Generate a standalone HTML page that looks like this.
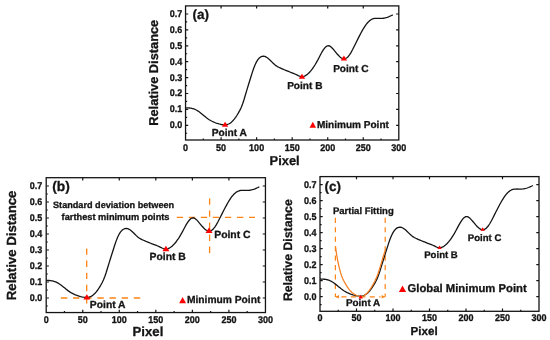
<!DOCTYPE html>
<html><head><meta charset="utf-8"><title>Figure</title>
<style>html,body{margin:0;padding:0;background:#fff}body{width:550px;height:340px;overflow:hidden}svg text{font-family:"Liberation Sans",sans-serif;font-weight:bold;stroke:#141414;stroke-width:0.3px;stroke-linejoin:round;text-rendering:geometricPrecision}</style></head>
<body>
<svg width="550" height="340" viewBox="0 0 550 340" font-family="Liberation Sans, sans-serif" font-weight="bold" fill="#141414" style="display:block">
<rect x="185.55" y="5.9" width="213.25" height="134.1" fill="none" stroke="#141414" stroke-width="1.3"/>
<path d="M203.32 140v-1.6M221.09 140v-2.7M221.09 5.9v2.7M238.86 140v-1.6M256.63 140v-2.7M256.63 5.9v2.7M274.4 140v-1.6M292.18 140v-2.7M292.18 5.9v2.7M309.95 140v-1.6M327.72 140v-2.7M327.72 5.9v2.7M345.49 140v-1.6M363.26 140v-2.7M363.26 5.9v2.7M381.03 140v-1.6M185.55 133.25h1.6M185.55 125.3h2.7M398.8 125.3h-2.7M185.55 117.35h1.6M185.55 109.4h2.7M398.8 109.4h-2.7M185.55 101.45h1.6M185.55 93.5h2.7M398.8 93.5h-2.7M185.55 85.55h1.6M185.55 77.6h2.7M398.8 77.6h-2.7M185.55 69.65h1.6M185.55 61.7h2.7M398.8 61.7h-2.7M185.55 53.75h1.6M185.55 45.8h2.7M398.8 45.8h-2.7M185.55 37.85h1.6M185.55 29.9h2.7M398.8 29.9h-2.7M185.55 21.95h1.6M185.55 14h2.7M398.8 14h-2.7" stroke="#141414" stroke-width="1.2" fill="none"/>
<text transform="translate(182.35 128.26) scale(1 1.09)" font-size="9.0" text-anchor="end" >0.0</text>
<text transform="translate(182.35 112.36) scale(1 1.09)" font-size="9.0" text-anchor="end" >0.1</text>
<text transform="translate(182.35 96.46) scale(1 1.09)" font-size="9.0" text-anchor="end" >0.2</text>
<text transform="translate(182.35 80.56) scale(1 1.09)" font-size="9.0" text-anchor="end" >0.3</text>
<text transform="translate(182.35 64.66) scale(1 1.09)" font-size="9.0" text-anchor="end" >0.4</text>
<text transform="translate(182.35 48.76) scale(1 1.09)" font-size="9.0" text-anchor="end" >0.5</text>
<text transform="translate(182.35 32.86) scale(1 1.09)" font-size="9.0" text-anchor="end" >0.6</text>
<text transform="translate(182.35 16.96) scale(1 1.09)" font-size="9.0" text-anchor="end" >0.7</text>
<text transform="translate(185.55 150.5) scale(1 1.09)" font-size="9.0" text-anchor="middle" >0</text>
<text transform="translate(221.09 150.5) scale(1 1.09)" font-size="9.0" text-anchor="middle" >50</text>
<text transform="translate(256.63 150.5) scale(1 1.09)" font-size="9.0" text-anchor="middle" >100</text>
<text transform="translate(292.18 150.5) scale(1 1.09)" font-size="9.0" text-anchor="middle" >150</text>
<text transform="translate(327.72 150.5) scale(1 1.09)" font-size="9.0" text-anchor="middle" >200</text>
<text transform="translate(363.26 150.5) scale(1 1.09)" font-size="9.0" text-anchor="middle" >250</text>
<text transform="translate(398.8 150.5) scale(1 1.09)" font-size="9.0" text-anchor="middle" >300</text>

<path d="M185.55 107.81 L186.94 107.83 L188.33 107.89 L189.72 108.02 L191.11 108.23 L192.51 108.53 L193.9 108.96 L195.29 109.51 L196.68 110.22 L198.07 111.08 L199.46 112.06 L200.85 113.14 L202.24 114.28 L203.63 115.44 L205.03 116.6 L206.42 117.71 L207.81 118.76 L209.2 119.7 L210.59 120.53 L211.98 121.27 L213.37 121.93 L214.76 122.51 L216.15 123.03 L217.55 123.49 L218.94 123.89 L220.33 124.24 L221.72 124.53 L223.11 124.74 L224.5 124.82 L225.89 124.76 L227.28 124.5 L228.68 124.01 L230.07 123.23 L231.46 122.16 L232.85 120.8 L234.24 119.19 L235.63 117.34 L237.02 115.25 L238.41 112.92 L239.8 110.35 L241.2 107.44 L242.59 103.94 L243.98 99.69 L245.37 95.02 L246.76 90.35 L248.15 85.8 L249.54 81.3 L250.93 76.79 L252.32 72.37 L253.72 68.28 L255.11 64.74 L256.5 61.88 L257.89 59.66 L259.28 58.04 L260.67 56.96 L262.06 56.37 L263.45 56.21 L264.84 56.44 L266.24 57.04 L267.63 57.98 L269.02 59.15 L270.41 60.48 L271.8 61.91 L273.19 63.32 L274.58 64.6 L275.97 65.67 L277.36 66.55 L278.76 67.28 L280.15 67.93 L281.54 68.55 L282.93 69.15 L284.32 69.73 L285.71 70.32 L287.1 70.9 L288.49 71.46 L289.89 72.01 L291.28 72.54 L292.67 73.07 L294.06 73.63 L295.45 74.24 L296.84 74.93 L298.23 75.63 L299.62 76.23 L301.01 76.63 L302.41 76.72 L303.8 76.43 L305.19 75.81 L306.58 74.92 L307.97 73.8 L309.36 72.46 L310.75 70.9 L312.14 69.13 L313.53 67.16 L314.93 64.99 L316.32 62.63 L317.71 60.11 L319.1 57.44 L320.49 54.75 L321.88 52.19 L323.27 49.91 L324.66 48.02 L326.05 46.6 L327.45 45.78 L328.84 45.69 L330.23 46.32 L331.62 47.46 L333.01 48.94 L334.4 50.58 L335.79 52.3 L337.18 53.98 L338.57 55.55 L339.97 56.9 L341.36 57.96 L342.75 58.64 L344.14 58.85 L345.53 58.55 L346.92 57.74 L348.31 56.42 L349.7 54.6 L351.09 52.36 L352.49 49.81 L353.88 47.07 L355.27 44.26 L356.66 41.43 L358.05 38.63 L359.44 35.88 L360.83 33.22 L362.22 30.67 L363.62 28.29 L365.01 26.1 L366.4 24.16 L367.79 22.5 L369.18 21.12 L370.57 20.04 L371.96 19.23 L373.35 18.71 L374.74 18.43 L376.14 18.31 L377.53 18.29 L378.92 18.32 L380.31 18.35 L381.7 18.34 L383.09 18.24 L384.48 18.02 L385.87 17.7 L387.26 17.28 L388.66 16.77 L390.05 16.18 L391.44 15.52 L392.83 14.8" stroke="#141414" stroke-width="1.3" fill="none" stroke-linejoin="round"/>
<text x="229.3" y="135.8" font-size="10.2" text-anchor="middle" >Point A</text>
<text x="304.8" y="88.5" font-size="10.1" text-anchor="middle" >Point B</text>
<text x="350.8" y="71.8" font-size="10.1" text-anchor="middle" >Point C</text>
<polygon points="309.5,127.7 316.1,127.7 312.8,121.7" fill="#FF0000"/>
<text x="316.9" y="127.7" font-size="10.05" text-anchor="start" >Minimum Point</text>
<polygon points="221.87,126.69 228.27,126.69 225.07,121.69" fill="#FF0000"/>
<polygon points="298.78,78.67 305.18,78.67 301.98,73.67" fill="#FF0000"/>
<polygon points="340.72,60.54 347.12,60.54 343.92,55.54" fill="#FF0000"/>
<text transform="translate(158.2 72.8) rotate(-90)" font-size="12.8" text-anchor="middle">Relative Distance</text>
<text x="284.6" y="164.9" font-size="12.9" text-anchor="middle" >Pixel</text>
<text x="192.4" y="19.3" font-size="13.5" text-anchor="start" >(a)</text>
<rect x="46.2" y="177.7" width="219.25" height="134.85" fill="none" stroke="#141414" stroke-width="1.3"/>
<path d="M64.47 312.55v-1.6M82.74 312.55v-2.7M82.74 177.7v2.7M101.01 312.55v-1.6M119.28 312.55v-2.7M119.28 177.7v2.7M137.55 312.55v-1.6M155.82 312.55v-2.7M155.82 177.7v2.7M174.1 312.55v-1.6M192.37 312.55v-2.7M192.37 177.7v2.7M210.64 312.55v-1.6M228.91 312.55v-2.7M228.91 177.7v2.7M247.18 312.55v-1.6M46.2 306h1.6M46.2 298h2.7M265.45 298h-2.7M46.2 290h1.6M46.2 282h2.7M265.45 282h-2.7M46.2 274h1.6M46.2 266h2.7M265.45 266h-2.7M46.2 258h1.6M46.2 250h2.7M265.45 250h-2.7M46.2 242h1.6M46.2 234h2.7M265.45 234h-2.7M46.2 226h1.6M46.2 218h2.7M265.45 218h-2.7M46.2 210h1.6M46.2 202h2.7M265.45 202h-2.7M46.2 194h1.6M46.2 186h2.7M265.45 186h-2.7" stroke="#141414" stroke-width="1.2" fill="none"/>
<text transform="translate(42.2 300.96) scale(1 1.09)" font-size="9.0" text-anchor="end" >0.0</text>
<text transform="translate(42.2 284.96) scale(1 1.09)" font-size="9.0" text-anchor="end" >0.1</text>
<text transform="translate(42.2 268.96) scale(1 1.09)" font-size="9.0" text-anchor="end" >0.2</text>
<text transform="translate(42.2 252.96) scale(1 1.09)" font-size="9.0" text-anchor="end" >0.3</text>
<text transform="translate(42.2 236.96) scale(1 1.09)" font-size="9.0" text-anchor="end" >0.4</text>
<text transform="translate(42.2 220.96) scale(1 1.09)" font-size="9.0" text-anchor="end" >0.5</text>
<text transform="translate(42.2 204.96) scale(1 1.09)" font-size="9.0" text-anchor="end" >0.6</text>
<text transform="translate(42.2 188.96) scale(1 1.09)" font-size="9.0" text-anchor="end" >0.7</text>
<text transform="translate(46.2 323.4) scale(1 1.09)" font-size="9.0" text-anchor="middle" >0</text>
<text transform="translate(82.74 323.4) scale(1 1.09)" font-size="9.0" text-anchor="middle" >50</text>
<text transform="translate(119.28 323.4) scale(1 1.09)" font-size="9.0" text-anchor="middle" >100</text>
<text transform="translate(155.82 323.4) scale(1 1.09)" font-size="9.0" text-anchor="middle" >150</text>
<text transform="translate(192.37 323.4) scale(1 1.09)" font-size="9.0" text-anchor="middle" >200</text>
<text transform="translate(228.91 323.4) scale(1 1.09)" font-size="9.0" text-anchor="middle" >250</text>
<text transform="translate(265.45 323.4) scale(1 1.09)" font-size="9.0" text-anchor="middle" >300</text>
<path d="M60.9 298H141.2" stroke="#FF8414" stroke-width="1.3" stroke-dasharray="6.4 5.75" fill="none"/>
<path d="M86.7 248.4V304.3" stroke="#FF8414" stroke-width="1.3" stroke-dasharray="6.4 5.75" fill="none"/>
<path d="M176.7 217.4H255" stroke="#FF8414" stroke-width="1.3" stroke-dasharray="6.4 5.65" fill="none"/>
<path d="M209.6 198.4V253.4" stroke="#FF8414" stroke-width="1.3" stroke-dasharray="6.4 5.65" fill="none"/>
<path d="M46.2 280.4 L47.63 280.42 L49.06 280.48 L50.49 280.61 L51.92 280.82 L53.35 281.13 L54.78 281.55 L56.21 282.11 L57.64 282.82 L59.07 283.69 L60.5 284.68 L61.93 285.77 L63.36 286.91 L64.79 288.08 L66.22 289.24 L67.65 290.37 L69.08 291.41 L70.51 292.36 L71.94 293.2 L73.38 293.94 L74.81 294.6 L76.24 295.19 L77.67 295.71 L79.1 296.18 L80.53 296.58 L81.96 296.94 L83.39 297.23 L84.82 297.43 L86.25 297.52 L87.68 297.46 L89.11 297.2 L90.54 296.7 L91.97 295.92 L93.4 294.84 L94.83 293.48 L96.26 291.85 L97.69 289.99 L99.12 287.88 L100.55 285.54 L101.98 282.96 L103.41 280.03 L104.84 276.51 L106.27 272.23 L107.7 267.53 L109.13 262.83 L110.56 258.25 L111.99 253.72 L113.42 249.18 L114.85 244.74 L116.28 240.62 L117.71 237.06 L119.14 234.18 L120.57 231.94 L122 230.31 L123.43 229.23 L124.87 228.63 L126.3 228.47 L127.73 228.7 L129.16 229.31 L130.59 230.26 L132.02 231.44 L133.45 232.77 L134.88 234.21 L136.31 235.63 L137.74 236.92 L139.17 238 L140.6 238.88 L142.03 239.62 L143.46 240.27 L144.89 240.89 L146.32 241.49 L147.75 242.09 L149.18 242.67 L150.61 243.25 L152.04 243.82 L153.47 244.37 L154.9 244.91 L156.33 245.44 L157.76 246 L159.19 246.62 L160.62 247.32 L162.05 248.02 L163.48 248.62 L164.91 249.02 L166.34 249.11 L167.77 248.82 L169.2 248.2 L170.63 247.3 L172.06 246.18 L173.49 244.83 L174.92 243.26 L176.36 241.48 L177.79 239.49 L179.22 237.31 L180.65 234.94 L182.08 232.4 L183.51 229.71 L184.94 227 L186.37 224.43 L187.8 222.14 L189.23 220.24 L190.66 218.81 L192.09 217.98 L193.52 217.89 L194.95 218.52 L196.38 219.67 L197.81 221.16 L199.24 222.81 L200.67 224.54 L202.1 226.23 L203.53 227.81 L204.96 229.17 L206.39 230.24 L207.82 230.92 L209.25 231.13 L210.68 230.83 L212.11 230.01 L213.54 228.68 L214.97 226.85 L216.4 224.6 L217.83 222.04 L219.26 219.28 L220.69 216.45 L222.12 213.6 L223.55 210.79 L224.98 208.02 L226.41 205.34 L227.84 202.78 L229.28 200.38 L230.71 198.18 L232.14 196.23 L233.57 194.55 L235 193.17 L236.43 192.07 L237.86 191.27 L239.29 190.74 L240.72 190.45 L242.15 190.34 L243.58 190.32 L245.01 190.35 L246.44 190.38 L247.87 190.37 L249.3 190.26 L250.73 190.05 L252.16 189.72 L253.59 189.3 L255.02 188.79 L256.45 188.2 L257.88 187.53 L259.31 186.8" stroke="#141414" stroke-width="1.3" fill="none" stroke-linejoin="round"/>
<text x="53" y="208" font-size="9.15" text-anchor="start" >Standard deviation between</text>
<text x="61.6" y="219.7" font-size="9.25" text-anchor="start" >farthest minimum points</text>
<text x="107.7" y="307.6" font-size="10.3" text-anchor="middle" >Point A</text>
<text x="167.7" y="260.3" font-size="10.4" text-anchor="middle" >Point B</text>
<text x="232.4" y="238.4" font-size="10.4" text-anchor="middle" >Point C</text>
<polygon points="179.15,303.3 186.05,303.3 182.6,296.9" fill="#FF0000"/>
<text x="186.9" y="303.3" font-size="10.25" text-anchor="start" >Minimum Point</text>
<polygon points="83.33,299.58 90.33,299.58 86.83,294.18" fill="#FF0000"/>
<polygon points="162.41,251.26 169.41,251.26 165.91,245.86" fill="#FF0000"/>
<polygon points="205.53,233.02 212.53,233.02 209.03,227.62" fill="#FF0000"/>
<text transform="translate(16.4 245.4) rotate(-90)" font-size="13.25" text-anchor="middle">Relative Distance</text>
<text x="147.9" y="335.8" font-size="13.2" text-anchor="middle" >Pixel</text>
<text x="52.2" y="191.4" font-size="13.8" text-anchor="start" >(b)</text>
<rect x="320" y="176.6" width="219" height="134.7" fill="none" stroke="#141414" stroke-width="1.3"/>
<path d="M338.25 311.3v-1.6M356.5 311.3v-2.7M356.5 176.6v2.7M374.75 311.3v-1.6M393 311.3v-2.7M393 176.6v2.7M411.25 311.3v-1.6M429.5 311.3v-2.7M429.5 176.6v2.7M447.75 311.3v-1.6M466 311.3v-2.7M466 176.6v2.7M484.25 311.3v-1.6M502.5 311.3v-2.7M502.5 176.6v2.7M520.75 311.3v-1.6M320 304.59h1.6M320 296.6h2.7M539 296.6h-2.7M320 288.61h1.6M320 280.61h2.7M539 280.61h-2.7M320 272.62h1.6M320 264.63h2.7M539 264.63h-2.7M320 256.64h1.6M320 248.64h2.7M539 248.64h-2.7M320 240.65h1.6M320 232.66h2.7M539 232.66h-2.7M320 224.66h1.6M320 216.67h2.7M539 216.67h-2.7M320 208.68h1.6M320 200.69h2.7M539 200.69h-2.7M320 192.69h1.6M320 184.7h2.7M539 184.7h-2.7" stroke="#141414" stroke-width="1.2" fill="none"/>
<text transform="translate(316.5 299.56) scale(1 1.09)" font-size="9.0" text-anchor="end" >0.0</text>
<text transform="translate(316.5 283.58) scale(1 1.09)" font-size="9.0" text-anchor="end" >0.1</text>
<text transform="translate(316.5 267.59) scale(1 1.09)" font-size="9.0" text-anchor="end" >0.2</text>
<text transform="translate(316.5 251.6) scale(1 1.09)" font-size="9.0" text-anchor="end" >0.3</text>
<text transform="translate(316.5 235.62) scale(1 1.09)" font-size="9.0" text-anchor="end" >0.4</text>
<text transform="translate(316.5 219.63) scale(1 1.09)" font-size="9.0" text-anchor="end" >0.5</text>
<text transform="translate(316.5 203.65) scale(1 1.09)" font-size="9.0" text-anchor="end" >0.6</text>
<text transform="translate(316.5 187.66) scale(1 1.09)" font-size="9.0" text-anchor="end" >0.7</text>
<text transform="translate(320 321.3) scale(1 1.09)" font-size="9.0" text-anchor="middle" >0</text>
<text transform="translate(356.5 321.3) scale(1 1.09)" font-size="9.0" text-anchor="middle" >50</text>
<text transform="translate(393 321.3) scale(1 1.09)" font-size="9.0" text-anchor="middle" >100</text>
<text transform="translate(429.5 321.3) scale(1 1.09)" font-size="9.0" text-anchor="middle" >150</text>
<text transform="translate(466 321.3) scale(1 1.09)" font-size="9.0" text-anchor="middle" >200</text>
<text transform="translate(502.5 321.3) scale(1 1.09)" font-size="9.0" text-anchor="middle" >250</text>
<text transform="translate(539 321.3) scale(1 1.09)" font-size="9.0" text-anchor="middle" >300</text>
<path d="M335.4 217.8V297" stroke="#FF8414" stroke-width="1.2" stroke-dasharray="5.1 4.35" fill="none"/>
<path d="M385.2 217.8V297" stroke="#FF8414" stroke-width="1.2" stroke-dasharray="5.1 4.35" fill="none"/>
<path d="M341.4 296.8H380.5" stroke="#FF8414" stroke-width="1.2" stroke-dasharray="5.1 4.35" fill="none"/>
<path d="M336 296.8 H338.6 M382 296.8 H384.6" stroke="#FF8414" stroke-width="1.2" fill="none"/>
<polygon points="339,295.1 335.8,296.8 339,298.5" fill="#FF8414"/>
<polygon points="381.6,295.1 384.8,296.8 381.6,298.5" fill="#FF8414"/>
<path d="M320 279.02 L321.43 279.03 L322.86 279.1 L324.29 279.23 L325.71 279.44 L327.14 279.74 L328.57 280.17 L330 280.73 L331.43 281.44 L332.86 282.3 L334.29 283.29 L335.72 284.38 L337.14 285.52 L338.57 286.69 L340 287.85 L341.43 288.97 L342.86 290.02 L344.29 290.97 L345.72 291.81 L347.14 292.55 L348.57 293.21 L350 293.79 L351.43 294.32 L352.86 294.78 L354.29 295.18 L355.72 295.54 L357.14 295.83 L358.57 296.03 L360 296.12 L361.43 296.06 L362.86 295.8 L364.29 295.3 L365.72 294.52 L367.15 293.44 L368.57 292.08 L370 290.46 L371.43 288.59 L372.86 286.49 L374.29 284.15 L375.72 281.57 L377.15 278.64 L378.57 275.12 L380 270.86 L381.43 266.15 L382.86 261.46 L384.29 256.89 L385.72 252.36 L387.15 247.83 L388.57 243.38 L390 239.27 L391.43 235.72 L392.86 232.84 L394.29 230.6 L395.72 228.97 L397.15 227.89 L398.58 227.3 L400 227.14 L401.43 227.37 L402.86 227.98 L404.29 228.92 L405.72 230.1 L407.15 231.43 L408.58 232.86 L410 234.29 L411.43 235.57 L412.86 236.65 L414.29 237.54 L415.72 238.27 L417.15 238.92 L418.58 239.54 L420.01 240.14 L421.43 240.74 L422.86 241.32 L424.29 241.9 L425.72 242.47 L427.15 243.02 L428.58 243.56 L430.01 244.09 L431.43 244.65 L432.86 245.27 L434.29 245.96 L435.72 246.66 L437.15 247.27 L438.58 247.67 L440.01 247.76 L441.43 247.47 L442.86 246.84 L444.29 245.95 L445.72 244.82 L447.15 243.48 L448.58 241.91 L450.01 240.13 L451.44 238.15 L452.86 235.96 L454.29 233.6 L455.72 231.05 L457.15 228.37 L458.58 225.67 L460.01 223.1 L461.44 220.81 L462.86 218.91 L464.29 217.48 L465.72 216.65 L467.15 216.56 L468.58 217.19 L470.01 218.34 L471.44 219.83 L472.86 221.48 L474.29 223.2 L475.72 224.9 L477.15 226.47 L478.58 227.83 L480.01 228.9 L481.44 229.58 L482.87 229.79 L484.29 229.49 L485.72 228.67 L487.15 227.35 L488.58 225.52 L490.01 223.26 L491.44 220.7 L492.87 217.95 L494.29 215.12 L495.72 212.28 L497.15 209.46 L498.58 206.7 L500.01 204.02 L501.44 201.46 L502.87 199.06 L504.3 196.87 L505.72 194.92 L507.15 193.25 L508.58 191.86 L510.01 190.77 L511.44 189.96 L512.87 189.44 L514.3 189.15 L515.72 189.03 L517.15 189.02 L518.58 189.05 L520.01 189.08 L521.44 189.06 L522.87 188.96 L524.3 188.74 L525.72 188.42 L527.15 188 L528.58 187.49 L530.01 186.89 L531.44 186.23 L532.87 185.5" stroke="#141414" stroke-width="1.3" fill="none" stroke-linejoin="round"/>
<path d="M335.48 246.25 L336.49 253.57 L337.51 259.54 L338.52 264.54 L339.54 268.88 L340.56 272.63 L341.57 275.74 L342.59 278.27 L343.6 280.44 L344.62 282.38 L345.64 284.15 L346.65 285.83 L347.67 287.41 L348.68 288.86 L349.7 290.17 L350.72 291.32 L351.73 292.3 L352.75 293.12 L353.76 293.82 L354.78 294.42 L355.8 294.96 L356.81 295.45 L357.83 295.91 L358.84 296.27 L359.86 296.52 L360.88 296.61 L361.89 296.51 L362.91 296.23 L363.93 295.76 L364.94 295.1 L365.96 294.25 L366.97 293.25 L367.99 292.09 L369.01 290.79 L370.02 289.37 L371.04 287.83 L372.05 286.18 L373.07 284.42 L374.09 282.55 L375.1 280.55 L376.12 278.38 L377.13 275.95 L378.15 273.19 L379.17 270.11 L380.18 266.81 L381.2 263.38 L382.21 259.93 L383.23 256.54 L384.25 253.34 L385.26 250.4" stroke="#F57F22" stroke-width="1.25" fill="none"/>
<text x="333" y="214.4" font-size="9.5" text-anchor="start" >Partial Fitting</text>
<text x="363.1" y="305.5" font-size="9.9" text-anchor="middle" >Point A</text>
<text x="441" y="257.8" font-size="9.6" text-anchor="middle" >Point B</text>
<text x="484.6" y="240.7" font-size="9.6" text-anchor="middle" >Point C</text>
<polygon points="398.9,292 406.1,292 402.5,285.4" fill="#FF0000"/>
<text x="407.5" y="292.4" font-size="11.3" text-anchor="start" >Global Minimum Point</text>
<polygon points="358.53,298.4 362.93,298.4 360.73,294.8" fill="#FF0000"/>
<polygon points="437.37,249 441.77,249 439.57,245.4" fill="#FF0000"/>
<polygon points="480.44,230.78 484.84,230.78 482.64,227.18" fill="#FF0000"/>
<text transform="translate(291.6 250.2) rotate(-90)" font-size="12.3" text-anchor="middle">Relative Distance</text>
<text x="424.1" y="334.6" font-size="11.6" text-anchor="middle" >Pixel</text>
<text x="324.4" y="191.3" font-size="13.5" text-anchor="start" >(c)</text>
</svg>
</body></html>
